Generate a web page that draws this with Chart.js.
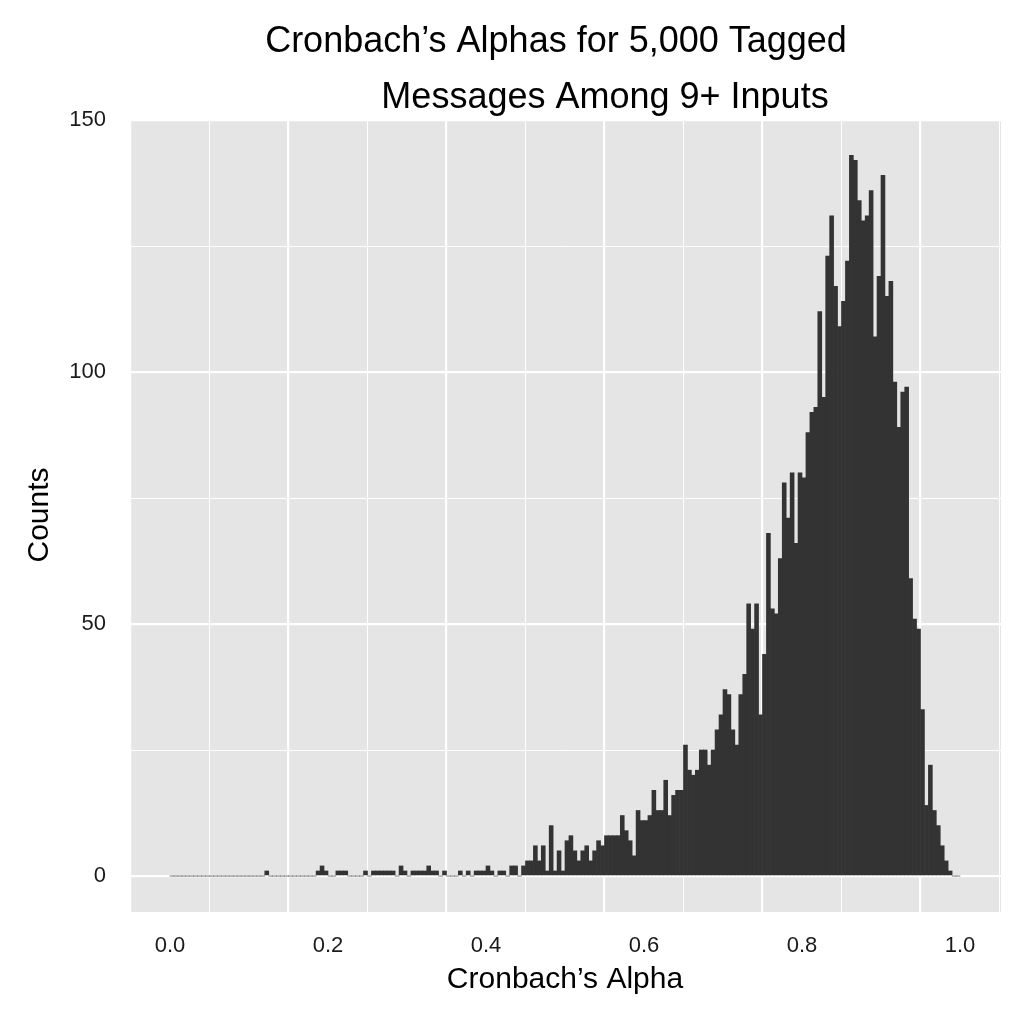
<!DOCTYPE html>
<html><head><meta charset="utf-8">
<script src="https://cdn.jsdelivr.net/npm/chart.js@4"></script>
<style>html,body{margin:0;padding:0;background:#fff}#c{display:block}</style>
</head><body>
<div style="width:1013px;height:1014px"><canvas id="c"></canvas></div>
<script>
const titleLines = ["Cronbach\u2019s Alphas for 5,000 Tagged", "Messages Among 9+ Inputs"];
const xTitle = "Cronbach\u2019s Alpha";
const yTitle = "Counts";
const xTickLabels = ["0.0","0.2","0.4","0.6","0.8","1.0"];
const yTickLabels = ["0","50","100","150"];
const binWidth = 0.005;
// counts per bin, bin k covers [k*0.005, (k+1)*0.005)
const counts = [
 0,0,0,0,0,0,0,0,0,0, 0,0,0,0,0,0,0,0,0,0, 0,0,0,0,1,0,0,0,0,0,
 0,0,0,0,0,0,0,1,2,1, 0,0,1,1,1,0,0,0,0,1, 0,1,1,1,1,1,1,0,2,1,
 0,1,1,1,1,2,1,1,0,1, 0,0,0,1,0,1,0,1,1,1, 2,1,0,1,1,0,2,2,0,2,
 3,3,6,3,6,1,10,1,5,1, 7,8,5,3,5,6,3,5,7,6, 8,8,8,8,12,9,7,4,13,11,
 11,12,17,13,13,19,12,16,17,17, 26,21,20,21,25,25,22,25,29,32,
 37,36,29,26,36,40,54,49,54,32, 44,68,53,52,63,78,71,80,66,80,
 79,88,92,93,112,95,123,131,117,109, 114,122,143,142,134,130,131,136,107,119,
 139,115,118,98,89,96,97,59,51,49, 33,14,22,13,10,6,3,1,0,0
];
const binCenters = counts.map((_, k) => +(k * binWidth + binWidth / 2).toFixed(4));

const FONT = "'Liberation Sans', Arial, sans-serif";
const xMajor = [0,0.2,0.4,0.6,0.8,1.0], xMinor = [0.1,0.3,0.5,0.7,0.9];
const yMajor = [0,50,100,150], yMinor = [25,75,125];
const isMajor = (list, c) => !!(c && c.tick && list.some(v => Math.abs(v - c.tick.value) < 1e-9));

const deco = {
  id: 'deco',
  beforeDraw(chart) {
    const {ctx, chartArea: a} = chart;
    ctx.save(); ctx.fillStyle = '#e5e5e5';
    ctx.fillRect(a.left, a.top, a.right - a.left, a.bottom - a.top);
    ctx.restore();
  },
  afterDraw(chart) {
    const {ctx, scales: {x, y}} = chart;
    ctx.save();
    ctx.fillStyle = '#000';
    ctx.font = '36px ' + FONT; ctx.textAlign = 'center'; ctx.textBaseline = 'alphabetic';
    ctx.fillText(titleLines[0], 556, 52);
    ctx.fillText(titleLines[1], 605, 108);
    ctx.font = '22px ' + FONT; ctx.fillStyle = '#1a1a1a';
    xTickLabels.forEach(t => ctx.fillText(t, x.getPixelForValue(parseFloat(t)), 952));
    ctx.textAlign = 'right'; ctx.textBaseline = 'middle';
    yTickLabels.forEach(t => ctx.fillText(t, 106, y.getPixelForValue(parseFloat(t))));
    ctx.fillStyle = '#000';
    ctx.font = '30px ' + FONT; ctx.textAlign = 'center'; ctx.textBaseline = 'alphabetic';
    ctx.fillText(xTitle, 565, 988);
    ctx.translate(48, 515); ctx.rotate(-Math.PI / 2);
    ctx.fillText(yTitle, 0, 0);
    ctx.restore();
  }
};

new Chart(document.getElementById('c'), {
  type: 'bar',
  data: { datasets: [{
    data: binCenters.map((c, i) => ({x: c, y: counts[i]})),
    backgroundColor: '#333333', borderWidth: 0,
    barPercentage: 1, categoryPercentage: 1, grouped: false
  }]},
  options: {
    responsive: true, maintainAspectRatio: false, animation: false,
    devicePixelRatio: 1,
    layout: { padding: {left: 130, right: 12, top: 120, bottom: 102} },
    plugins: { legend: {display: false}, tooltip: {enabled: false} },
    scales: {
      x: {
        type: 'linear', offset: false, min: -0.0506, max: 1.0519,
        afterBuildTicks: s => { s.ticks = [...xMajor, ...xMinor].sort((a,b)=>a-b).map(v => ({value: v})); },
        ticks: { display: false },
        grid: { color: '#ffffff', lineWidth: c => isMajor(xMajor, c) ? 2.2 : 1, drawTicks: false },
        border: { display: false }
      },
      y: {
        min: -7.14, max: 150,
        afterBuildTicks: s => { s.ticks = [...yMajor, ...yMinor].sort((a,b)=>a-b).map(v => ({value: v})); },
        ticks: { display: false },
        grid: { color: '#ffffff', lineWidth: c => isMajor(yMajor, c) ? 2.2 : 1, drawTicks: false },
        border: { display: false }
      }
    }
  },
  plugins: [deco]
});
</script>
</body></html>
